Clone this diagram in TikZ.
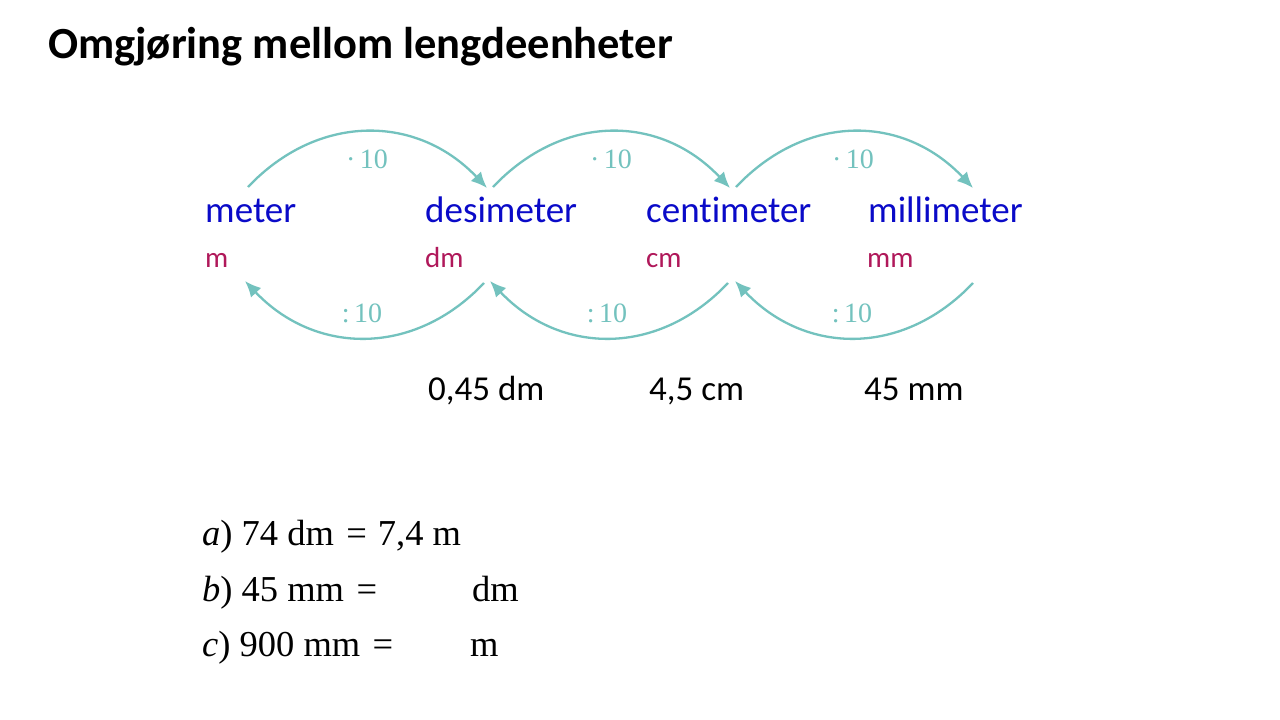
\documentclass[tikz,border=0pt]{standalone}
\usepackage[no-math]{fontspec}
\setmainfont{Carlito}[Ligatures=NoCommon]
\newfontfamily\serifnum{Liberation Serif}
\usetikzlibrary{arrows.meta}
\definecolor{wordblue}{RGB}{10,10,200}
\definecolor{abbrred}{RGB}{176,24,90}
\definecolor{arcteal}{RGB}{115,194,190}
\newcommand{\eqsign}{\hspace{0.34em}=\hspace{0.30em}}
\tikzset{
  word/.style={anchor=base west, inner sep=0pt, text=wordblue, font=\fontsize{37}{40}\selectfont},
  abbr/.style={anchor=base west, inner sep=0pt, text=abbrred, font=\fontsize{29}{32}\selectfont},
  oplabel/.style={anchor=base, inner sep=0pt, text=arcteal, font=\serifnum\fontsize{28}{30}\selectfont},
  answer/.style={anchor=base west, inner sep=0pt, font=\fontsize{35}{40}\selectfont},
  task/.style={anchor=base west, inner sep=0pt, font=\serifnum\fontsize{36.5}{40}\selectfont},
  arc/.style={draw=arcteal, line width=2.3pt, -{Latex[length=16pt,width=14pt]}},
}
\begin{document}
\begin{tikzpicture}[x=1pt,y=-1pt]
\useasboundingbox[fill=white] (0,0) rectangle (1280,720);
\node[anchor=base west, inner sep=0pt, font=\fontsize{44.5}{48}\selectfont\bfseries] (title) at (48,58) {Omgjøring mellom lengdeenheter};

\node[word] (w1) at (205,222) {meter};
\node[word] (w2) at (425,222) {desimeter};
\node[word] (w3) at (646,222) {centimeter};
\node[word] (w4) at (868,222) {millimeter};

\node[abbr] (a1) at (205,267) {m};
\node[abbr] (a2) at (425,267) {dm};
\node[abbr] (a3) at (646,267) {cm};
\node[abbr] (a4) at (867,267) {mm};

% arc end points
\coordinate (t1s) at (248,187); \coordinate (t1e) at (487,188);
\coordinate (t2s) at (493,187); \coordinate (t2e) at (730,188);
\coordinate (t3s) at (736,187); \coordinate (t3e) at (973,188);
\coordinate (b1s) at (484,283); \coordinate (b1e) at (245,281);
\coordinate (b2s) at (728,283); \coordinate (b2e) at (490,281);
\coordinate (b3s) at (973,283); \coordinate (b3e) at (735,281);

\draw[arc] (t1s) .. controls +(70,-74) and +(-70,-74) .. (t1e);
\draw[arc] (t2s) .. controls +(70,-74) and +(-70,-74) .. (t2e);
\draw[arc] (t3s) .. controls +(70,-74) and +(-70,-74) .. (t3e);
\draw[arc] (b1s) .. controls +(-70,74) and +(70,74) .. (b1e);
\draw[arc] (b2s) .. controls +(-70,74) and +(70,74) .. (b2e);
\draw[arc] (b3s) .. controls +(-70,74) and +(70,74) .. (b3e);

\node[oplabel] (m1) at (367,168) {·\,10};
\node[oplabel] (m2) at (611,168) {·\,10};
\node[oplabel] (m3) at (853,168) {·\,10};
\node[oplabel] (d1) at (362,322) {:\,10};
\node[oplabel] (d2) at (607,322) {:\,10};
\node[oplabel] (d3) at (852,322) {:\,10};

\node[answer] (r1) at (428,400) {0,45 dm};
\node[answer] (r2) at (649,400) {4,5 cm};
\node[answer] (r3) at (864,400) {45 mm};

\node[task] (qa) at (202,545) {\textit{a}) 74 dm\eqsign 7,4 m};
\node[task] (qb) at (202,601) {\textit{b}) 45 mm\eqsign};
\node[task] (qbu) at (472,601) {dm};
\node[task] (qc) at (202,656) {\textit{c}) 900 mm\eqsign};
\node[task] (qcu) at (470,656) {m};
\end{tikzpicture}
\end{document}
